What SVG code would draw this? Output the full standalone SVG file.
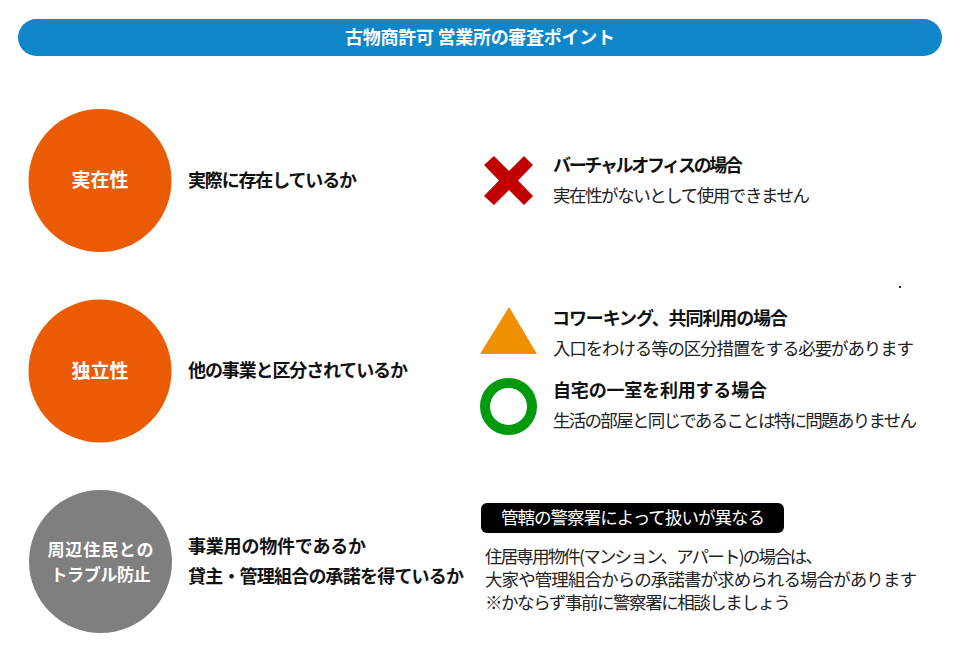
<svg xmlns="http://www.w3.org/2000/svg" width="960" height="655" viewBox="0 0 960 655">
<style>
text{font-family:"Noto Sans CJK JP","Liberation Sans",sans-serif;fill:#111}
.b{font-weight:700;font-size:18px}
.r{font-weight:400;font-size:17.500px;fill:#222}
.c{font-weight:700;font-size:18px;fill:#fff;text-anchor:middle}
</style>
<rect width="960" height="655" fill="#fff"/>
<g id="header"><rect x="18" y="19" width="924" height="37" rx="18.500" fill="#0e86c9"/>
<text x="480" y="44" class="c" textLength="270">古物商許可 営業所の審査ポイント</text></g>
<g id="node-jitsuzai"><circle cx="100" cy="180.500" r="71.500" fill="#ea5b04"/><text x="100" y="187" class="c" style="font-size:19px">実在性</text></g>
<text x="188" y="187" class="b" textLength="169">実際に存在しているか</text>
<g id="node-dokuritsu"><circle cx="100" cy="371" r="71.500" fill="#ea5b04"/><text x="100" y="378" class="c" style="font-size:19px">独立性</text></g>
<text x="188" y="377" class="b" textLength="220">他の事業と区分されているか</text>
<g id="node-trouble"><circle cx="100.500" cy="561.500" r="71.500" fill="#7f7f7f"/>
<text x="100.500" y="556" class="c" style="font-size:17px" textLength="106">周辺住民との</text><text x="100.500" y="581" class="c" style="font-size:17px" textLength="100">トラブル防止</text></g>
<text x="188" y="553" class="b" textLength="178">事業用の物件であるか</text>
<text x="188" y="583" class="b" textLength="276">貸主・管理組合の承諾を得ているか</text>
<g id="mark-cross"><path d="M484 165 L494 156 L509 171 L524 156 L533 165 L518 180.500 L533 196 L524 205 L509 190 L494 205 L484 196 L499 180.500Z" fill="#c00000"/></g>
<text x="553" y="172" class="b" textLength="190">バーチャルオフィスの場合</text>
<text x="553" y="202" class="r" textLength="257">実在性がないとして使用できません</text>
<rect x="899" y="286" width="2" height="2" fill="#222"/>
<g id="mark-triangle"><path d="M509 307 L537 354 L480 354Z" fill="#ee9000"/></g>
<text x="552" y="325" class="b" textLength="236">コワーキング、共同利用の場合</text>
<text x="553" y="355" class="r" textLength="361">入口をわける等の区分措置をする必要があります</text>
<g id="mark-circle"><circle cx="508.500" cy="406.500" r="23.500" fill="none" stroke="#009a0c" stroke-width="10"/></g>
<text x="553" y="397" class="b" textLength="214">自宅の一室を利用する場合</text>
<text x="553" y="427" class="r" textLength="364">生活の部屋と同じであることは特に問題ありません</text>
<g id="note"><rect x="481" y="503" width="303" height="30" rx="6" fill="#000"/>
<text x="501" y="524" textLength="264" style="font-size:17.500px;fill:#fff">管轄の警察署によって扱いが異なる</text></g>
<text x="485" y="563" class="r" textLength="338">住居専用物件(マンション、アパート)の場合は、</text>
<text x="485" y="586" class="r" textLength="432">大家や管理組合からの承諾書が求められる場合があります</text>
<text x="485" y="609" class="r" textLength="306">※かならず事前に警察署に相談しましょう</text>
<g id="connectors"/>
</svg>
